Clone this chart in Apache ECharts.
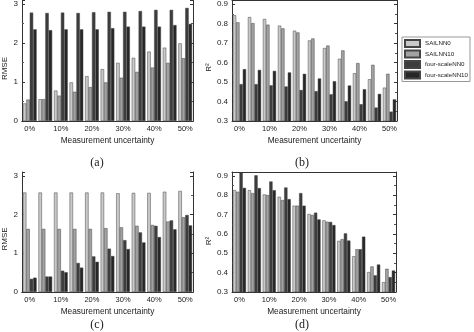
<!DOCTYPE html>
<html><head><meta charset="utf-8">
<script src="https://cdn.jsdelivr.net/npm/echarts@6/dist/echarts.min.js"></script>
<style>html,body{margin:0;padding:0;background:#fff}#c{width:474px;height:332px}</style>
</head><body><div id="c"></div>
<script>
var categories = ['0%','5%','10%','15%','20%','25%','30%','35%','40%','45%','50%'];
var seriesNames = ['SAILNN0','SAILNN10','four-scaleNN0','four-scaleNN10'];
// (a) RMSE
var a_SAILNN0 = [0.45,0.56,0.78,0.99,1.15,1.33,1.49,1.62,1.78,1.88,1.99];
var a_SAILNN10 = [0.55,0.56,0.65,0.75,0.87,0.99,1.11,1.26,1.37,1.49,1.61];
var a_fourNN0 = [2.78,2.77,2.78,2.77,2.79,2.80,2.80,2.82,2.85,2.85,2.90];
var a_fourNN10 = [2.35,2.33,2.35,2.35,2.35,2.38,2.42,2.42,2.42,2.46,2.49];
// (b) R2
var b_SAILNN0 = [0.842,0.833,0.823,0.789,0.763,0.713,0.674,0.619,0.545,0.514,0.471];
var b_SAILNN10 = [0.806,0.802,0.794,0.775,0.754,0.723,0.687,0.662,0.597,0.588,0.542];
var b_fourNN0 = [0.489,0.489,0.483,0.477,0.459,0.453,0.437,0.401,0.386,0.369,0.348];
var b_fourNN10 = [0.566,0.562,0.557,0.549,0.542,0.518,0.504,0.482,0.463,0.439,0.411];
// (c) RMSE
var c_SAILNN0 = [2.57,2.57,2.57,2.57,2.57,2.57,2.55,2.56,2.56,2.59,2.61];
var c_SAILNN10 = [1.63,1.63,1.63,1.63,1.63,1.65,1.67,1.71,1.73,1.82,1.93];
var c_fourNN0 = [0.34,0.40,0.55,0.75,0.92,1.12,1.34,1.54,1.71,1.85,1.99];
var c_fourNN10 = [0.37,0.40,0.51,0.63,0.78,0.93,1.11,1.28,1.42,1.62,1.72];
// (d) R2
var d_SAILNN0 = [0.826,0.826,0.804,0.792,0.746,0.703,0.670,0.564,0.485,0.403,0.351];
var d_SAILNN10 = [0.818,0.811,0.801,0.775,0.746,0.698,0.663,0.573,0.521,0.432,0.420];
var d_fourNN0 = [0.917,0.903,0.871,0.840,0.811,0.710,0.662,0.603,0.521,0.386,0.377];
var d_fourNN10 = [0.838,0.837,0.826,0.780,0.746,0.675,0.646,0.566,0.586,0.442,0.411];
var rmseTicks = [0,1,2,3];
var r2Ticks = [0.3,0.4,0.5,0.6,0.7,0.8,0.9];

var colors = ['#c9c9c9','#a2a2a2','#3c3c3c','#262626'];
var panels = [
  {data:[a_SAILNN0,a_SAILNN10,a_fourNN0,a_fourNN10], name:'RMSE', ticks:rmseTicks, min:0, max:3.1, interval:1, dec:0, label:'(a)'},
  {data:[b_SAILNN0,b_SAILNN10,b_fourNN0,b_fourNN10], name:'R\u00b2', ticks:r2Ticks, min:0.3, max:0.92, interval:0.1, dec:1, label:'(b)'},
  {data:[c_SAILNN0,c_SAILNN10,c_fourNN0,c_fourNN10], name:'RMSE', ticks:rmseTicks, min:0, max:3.1, interval:1, dec:0, label:'(c)'},
  {data:[d_SAILNN0,d_SAILNN10,d_fourNN0,d_fourNN10], name:'R\u00b2', ticks:r2Ticks, min:0.3, max:0.92, interval:0.1, dec:1, label:'(d)'}
];
var grids = [
  {left:20, top:0, width:173, height:121},
  {left:232, top:0, width:165, height:121},
  {left:20, top:172, width:173, height:120},
  {left:232, top:172, width:164, height:120}
];
var nameGaps = [13, 19, 13, 19];
var namePad = [[0,16,0,0],[0,14,0,0],[0,14,0,0],[0,18,0,0]];
var font = '"Liberation Sans", Arial, sans-serif';
var xAxes = [], yAxes = [], series = [], graphics = [];
panels.forEach(function(p, i){
  xAxes.push({type:'category', gridIndex:i, data:categories, position:'bottom',
    axisLine:{lineStyle:{color:'#333',width:1}},
    axisTick:{inside:true, length:3, interval:1, alignWithLabel:true, lineStyle:{color:'#333'}},
    axisLabel:{interval:1, fontSize:7.5, color:'#222', fontFamily:font, margin:4},
    name:'Measurement uncertainty', nameLocation:'middle', nameGap:16,
    nameTextStyle:{fontSize:8.3, color:'#222', fontFamily:font}});
  xAxes.push({type:'category', gridIndex:i, data:categories, position:'top',
    axisLine:{lineStyle:{color:'#333',width:1}},
    axisTick:{inside:true, length:3, interval:1, alignWithLabel:true, lineStyle:{color:'#333'}},
    axisLabel:{show:false}});
  var ticks = p.ticks;
  var fmt = function(v){
    for (var k=0;k<ticks.length;k++){ if (Math.abs(v-ticks[k])<1e-6) return ticks[k].toFixed(p.dec); }
    return '';
  };
  yAxes.push({type:'value', gridIndex:i, min:p.min, max:p.max, interval:p.interval, position:'left',
    splitLine:{show:false},
    axisLine:{show:true, lineStyle:{color:'#333',width:1}},
    axisTick:{show:true, inside:true, length:3, lineStyle:{color:'#333'}},
    minorTick:{show:true, splitNumber:2, length:2, lineStyle:{color:'#555'}},
    axisLabel:{formatter:fmt, fontSize:8, color:'#222', fontFamily:font, margin:4},
    name:p.name, nameLocation:'middle', nameGap:nameGaps[i], nameRotate:90,
    nameTextStyle:{fontSize:8, color:'#222', fontFamily:font, padding:namePad[i]}});
  yAxes.push({type:'value', gridIndex:i, min:p.min, max:p.max, interval:p.interval, position:'right',
    splitLine:{show:false},
    axisLine:{show:true, lineStyle:{color:'#333',width:1}},
    axisTick:{show:true, inside:true, length:3, lineStyle:{color:'#333'}},
    minorTick:{show:true, splitNumber:2, length:2, lineStyle:{color:'#555'}},
    axisLabel:{show:false}});
  p.data.forEach(function(arr, s){
    series.push({type:'bar', name:seriesNames[s], xAxisIndex:2*i, yAxisIndex:2*i, data:arr,
      barGap:'0%', barCategoryGap:'12%',
      itemStyle:{color:colors[s], borderColor:'#444', borderWidth:0.5}});
  });
});
var lbls = [{t:'(a)',x:97,y:163},{t:'(b)',x:302,y:163},{t:'(c)',x:97,y:325},{t:'(d)',x:302,y:325}];
lbls.forEach(function(l){
  graphics.push({type:'text', x:l.x, y:l.y, style:{text:l.t, fontSize:12, fill:'#222', align:'center', verticalAlign:'middle', fontFamily:'"Liberation Serif", "Times New Roman", serif'}});
});
var chart = echarts.init(document.getElementById('c'), null, {renderer:'canvas'});
chart.setOption({
  animation:false,
  color:colors,
  grid:grids,
  xAxis:xAxes,
  yAxis:yAxes,
  series:series,
  legend:{data:seriesNames, orient:'vertical', left:402, top:37, itemWidth:15, itemHeight:7, itemGap:1.5,
    icon:'rect', borderColor:'#999', borderWidth:1, padding:[2,2,2,2],
    textStyle:{fontSize:6.2, color:'#222', fontFamily:font}},
  graphic:graphics
});
</script></body></html>
